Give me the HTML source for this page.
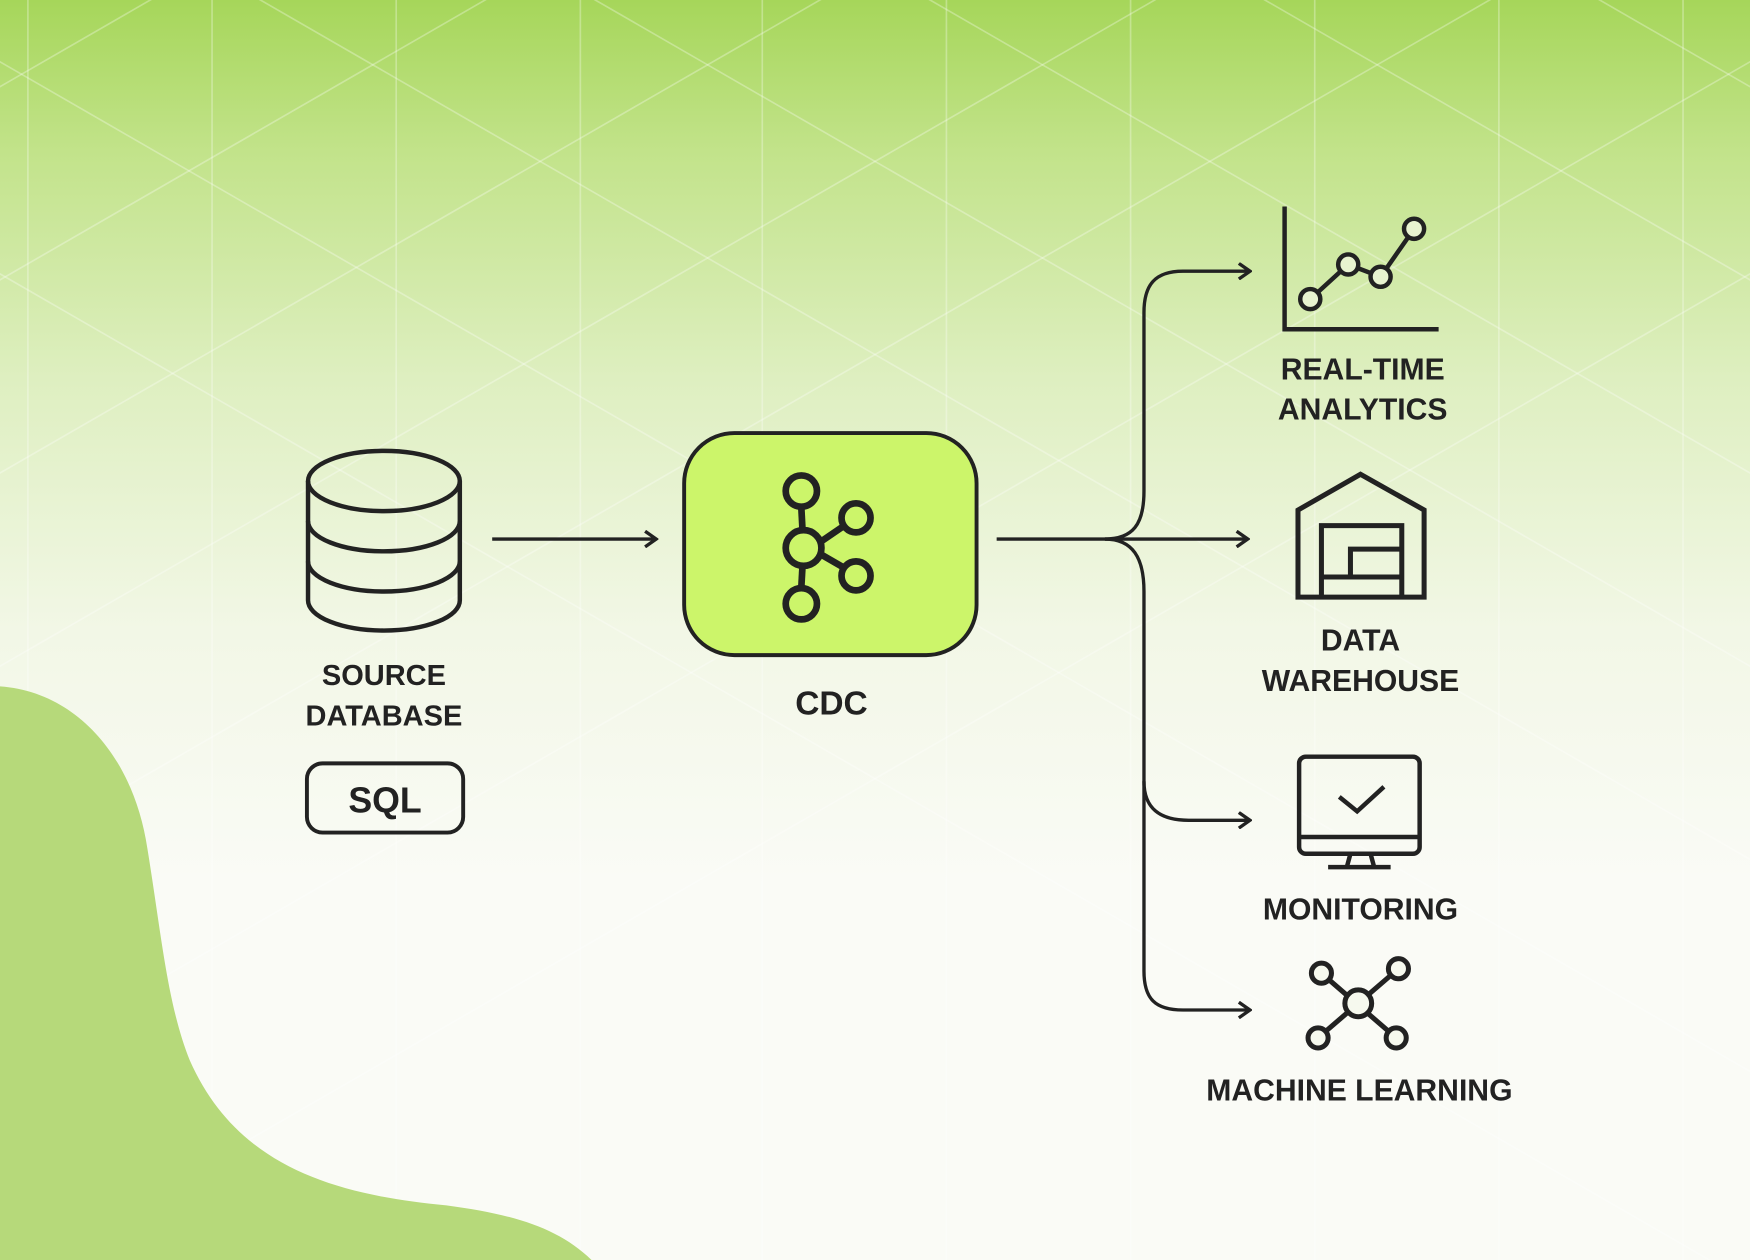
<!DOCTYPE html>
<html><head><meta charset="utf-8"><style>
html,body{margin:0;padding:0;background:#fafbf6}
svg{display:block}
text{font-family:"Liberation Sans",sans-serif;font-weight:bold;fill:#222;text-anchor:middle}
</style></head><body>
<svg width="1750" height="1260" viewBox="0 0 1568 1129" preserveAspectRatio="none" xmlns="http://www.w3.org/2000/svg">
<defs>
<linearGradient id="bg" x1="0" y1="0" x2="0" y2="1">
<stop offset="0" stop-color="#a6d65a"/>
<stop offset="0.12" stop-color="#c2e38a"/>
<stop offset="0.3" stop-color="#deefc0"/>
<stop offset="0.5" stop-color="#f2f7e6"/>
<stop offset="0.7" stop-color="#fafbf6"/>
<stop offset="1" stop-color="#fafbf6"/>
</linearGradient>
<marker id="ah" markerWidth="14" markerHeight="16" refX="12" refY="8" orient="auto" markerUnits="userSpaceOnUse">
<path d="M2,1 L12,8 L2,15" fill="none" stroke="#222" stroke-width="3"/>
</marker>
</defs>
<rect width="1568" height="1129" fill="url(#bg)"/>
<g stroke="#ffffff" stroke-opacity="0.3" stroke-width="1.5" fill="none">
<path d="M25,0V1129M190,0V1129M355,0V1129M520,0V1129M683,0V1129M848,0V1129M1013,0V1129M1178,0V1129M1343,0V1129M1508,0V1129"/>
<path d="M-200,-60L1568,960M-200,130L1568,1150M-200,-250L1568,770M100,-250L1868,770M400,-250L2168,770M700,-250L2468,770M1000,-250L2768,770"/>
<path d="M1768,-60L0,960M1768,130L0,1150M1768,-250L0,770M1468,-250L-300,770M1168,-250L-600,770M868,-250L-900,770M568,-250L-1200,770"/>
</g>
<path d="M0,615 C70,620 120,680 132,760 C145,840 150,900 170,950 C210,1040 290,1070 400,1080 C460,1088 500,1100 530,1129 L0,1129 Z" fill="#b6d97a"/>

<g fill="none" stroke="#222" stroke-width="4">
<ellipse cx="344" cy="431" rx="68" ry="27"/>
<path d="M276,431 V538 A68,27 0 0 0 412,538 V431"/>
<path d="M276,467 A68,27 0 0 0 412,467"/>
<path d="M276,503 A68,27 0 0 0 412,503"/>
</g>
<text x="344" y="614" font-size="26">SOURCE</text>
<text x="344" y="650" font-size="26">DATABASE</text>
<rect x="275" y="684" width="140" height="62" rx="14" fill="none" stroke="#222" stroke-width="3.5"/>
<text x="345" y="728" font-size="32">SQL</text>

<line x1="441" y1="483" x2="588" y2="483" stroke="#222" stroke-width="3" marker-end="url(#ah)"/>

<rect x="613" y="388" width="262" height="199" rx="45" fill="#ccf56a" stroke="#222" stroke-width="3.5"/>
<g stroke="#222" stroke-width="6" fill="none">
<line x1="718" y1="455" x2="719" y2="474"/>
<line x1="719" y1="508" x2="718" y2="526"/>
<line x1="736" y1="485" x2="755" y2="472"/>
<line x1="736" y1="497" x2="755" y2="508"/>
<circle cx="718" cy="440" r="14"/>
<circle cx="720" cy="491" r="16"/>
<circle cx="718" cy="541" r="14"/>
<circle cx="767" cy="464" r="13"/>
<circle cx="767" cy="516" r="13"/>
</g>
<text x="745" y="640" font-size="30">CDC</text>

<g fill="none" stroke="#222" stroke-width="3">
<path d="M893,483 H1118" marker-end="url(#ah)"/>
<path d="M990,483 C1015,483 1025,470 1025,440 V280 C1025,255 1035,243 1060,243 H1120" marker-end="url(#ah)"/>
<path d="M990,483 C1015,483 1025,500 1025,530 V870 C1025,895 1035,905 1060,905 H1120" marker-end="url(#ah)"/>
<path d="M1025,700 C1025,725 1040,735 1065,735 H1120" marker-end="url(#ah)"/>
</g>

<g fill="none" stroke="#222" stroke-width="4">
<path d="M1151,185 V295 H1289"/>
<path d="M1174,268 L1208,237 L1237,248 L1267,205"/>
</g>
<g fill="#e8f3d0" stroke="#222" stroke-width="4">
<circle cx="1174" cy="268" r="9"/><circle cx="1208" cy="237" r="9"/><circle cx="1237" cy="248" r="9"/><circle cx="1267" cy="205" r="9"/>
</g>
<text x="1221" y="340" font-size="27">REAL-TIME</text>
<text x="1221" y="376" font-size="27">ANALYTICS</text>

<g fill="none" stroke="#222" stroke-width="4.5">
<path d="M1163,535 V457 L1219,425 L1276,457 V535 Z"/>
<path d="M1184,535 V471 H1256 V535"/>
<path d="M1184,517 H1256"/>
<path d="M1210,517 V492 H1256"/>
</g>
<text x="1219" y="583" font-size="27">DATA</text>
<text x="1219" y="619" font-size="27">WAREHOUSE</text>

<g fill="none" stroke="#222" stroke-width="4">
<rect x="1164" y="678" width="108" height="87" rx="6"/>
<line x1="1164" y1="750" x2="1272" y2="750"/>
<path d="M1200,714 L1216,727 L1240,705"/>
<path d="M1210,765 L1207,776 M1228,765 L1231,776"/>
<line x1="1190" y1="777" x2="1246" y2="777"/>
</g>
<text x="1219" y="824" font-size="27">MONITORING</text>

<g fill="none" stroke="#222" stroke-width="4.5">
<path d="M1184,872 L1251,930 M1181,930 L1253,868"/>
</g>
<g fill="#f6f9ee" stroke="#222" stroke-width="4.5">
<circle cx="1217" cy="899" r="12"/>
<circle cx="1184" cy="872" r="9"/><circle cx="1253" cy="868" r="9"/><circle cx="1181" cy="930" r="9"/><circle cx="1251" cy="930" r="9"/>
</g>
<text x="1218" y="986" font-size="27">MACHINE LEARNING</text>
</svg>
</body></html>
